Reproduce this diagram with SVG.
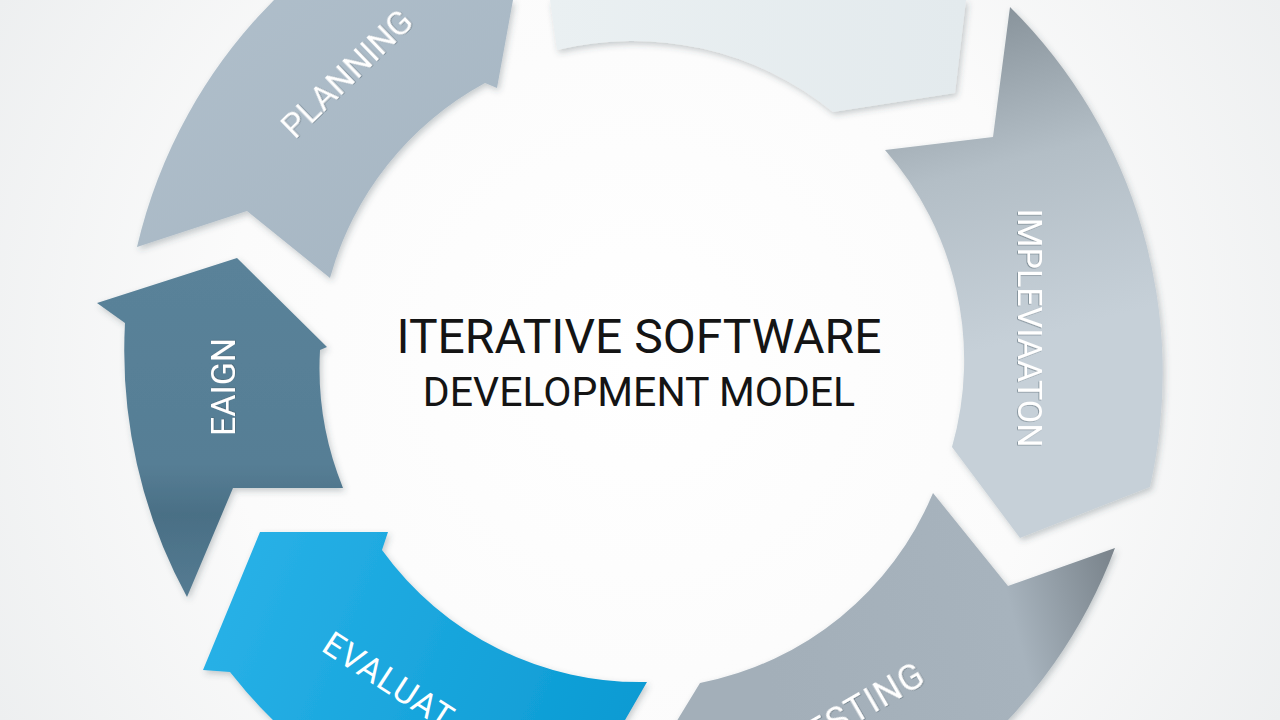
<svg xmlns="http://www.w3.org/2000/svg" width="1280" height="720" viewBox="0 0 1280 720">
  <defs>
    <radialGradient id="bg" cx="640" cy="360" r="760" gradientUnits="userSpaceOnUse">
      <stop offset="0" stop-color="#ffffff"/>
      <stop offset="0.55" stop-color="#fbfbfb"/>
      <stop offset="1" stop-color="#eceeef"/>
    </radialGradient>
    <linearGradient id="gPlan" x1="0" y1="0" x2="1" y2="1">
      <stop offset="0" stop-color="#b0bfcb"/>
      <stop offset="1" stop-color="#a5b5c2"/>
    </linearGradient>
    <linearGradient id="gTop" x1="0" y1="0" x2="1" y2="0">
      <stop offset="0" stop-color="#eaf0f2"/>
      <stop offset="1" stop-color="#e3eaed"/>
    </linearGradient>
    <linearGradient id="gImpl" x1="980" y1="20" x2="1060" y2="330" gradientUnits="userSpaceOnUse">
      <stop offset="0" stop-color="#8a959d"/>
      <stop offset="0.45" stop-color="#b3bec6"/>
      <stop offset="1" stop-color="#c6d0d8"/>
    </linearGradient>
    <linearGradient id="gTest" x1="760" y1="650" x2="1110" y2="560" gradientUnits="userSpaceOnUse">
      <stop offset="0" stop-color="#a3afb9"/>
      <stop offset="0.7" stop-color="#a7b3bd"/>
      <stop offset="1" stop-color="#7b858d"/>
    </linearGradient>
    <linearGradient id="gDes" x1="0" y1="260" x2="0" y2="600" gradientUnits="userSpaceOnUse">
      <stop offset="0" stop-color="#5a8299"/>
      <stop offset="0.6" stop-color="#567e95"/>
      <stop offset="0.75" stop-color="#4a6f85"/>
      <stop offset="1" stop-color="#557c93"/>
    </linearGradient>
    <linearGradient id="gEval" x1="260" y1="540" x2="640" y2="700" gradientUnits="userSpaceOnUse">
      <stop offset="0" stop-color="#27b0e6"/>
      <stop offset="1" stop-color="#0b9bd3"/>
    </linearGradient>
    <filter id="sh" x="-10%" y="-10%" width="120%" height="120%">
      <feDropShadow dx="2" dy="3" stdDeviation="3" flood-color="#3a4a55" flood-opacity="0.28"/>
    </filter>
    <filter id="tsh" x="-10%" y="-10%" width="120%" height="120%">
      <feDropShadow dx="0.6" dy="0.8" stdDeviation="0.6" flood-color="#4a5a66" flood-opacity="0.6"/>
    </filter>
  </defs>
  <style>
    .lbl { font-family: Roboto, "Liberation Sans", Arial, sans-serif; fill: #ffffff; font-weight: 400; }
    .title { font-family: Roboto, "Liberation Sans", Arial, sans-serif; fill: #141414; text-anchor: middle; }
  </style>

  <rect x="0" y="0" width="1280" height="720" fill="url(#bg)"/>

  <g id="connectors"></g>

  <g id="node-planning">
    <path filter="url(#sh)" fill="url(#gPlan)" d="M 137,247 A 515 515 0 0 1 274,0 L 513,0 L 497,88 L 485,83 A 318 318 0 0 0 330,278 L 247,211 Z"/>
    <text class="lbl" filter="url(#tsh)" font-size="34" text-anchor="middle" x="355" y="82" transform="rotate(-44 355 82)">PLANNING</text>
  </g>

  <g id="node-top">
    <path filter="url(#sh)" fill="url(#gTop)" d="M 550,0 L 557,50 A 318 318 0 0 1 833,112 L 955,93 L 966,0 Z"/>
  </g>

  <g id="node-implementation">
    <path filter="url(#sh)" fill="url(#gImpl)" d="M 1010,7 A 515 515 0 0 1 1150,487 L 1020,538 L 952,447 A 318 318 0 0 0 885,150 L 993,137 Z"/>
    <text class="lbl" filter="url(#tsh)" font-size="34" text-anchor="middle" x="1018" y="328" transform="rotate(90 1018 328)">IMPLEVIAATON</text>
  </g>

  <g id="node-testing">
    <path filter="url(#sh)" fill="url(#gTest)" d="M 933,493 L 1008,586 L 1115,548 A 515 515 0 0 1 966,760 L 653,760 L 700,683 A 318 318 0 0 0 933,493 Z"/>
    <text class="lbl" filter="url(#tsh)" font-size="36" letter-spacing="1" text-anchor="end" x="928" y="682" transform="rotate(-30 928 682)">TESTING</text>
  </g>

  <g id="node-evaluation">
    <path filter="url(#sh)" fill="url(#gEval)" d="M 260,532 L 388,532 L 382,550 A 318 318 0 0 0 647,682 L 602,760 L 318,760 A 515 515 0 0 1 230,672 L 203,670 Z"/>
    <text class="lbl" font-size="34" letter-spacing="1" x="320" y="650" transform="rotate(33 320 650)">EVALUAT</text>
  </g>

  <g id="node-design">
    <path filter="url(#sh)" fill="url(#gDes)" d="M 237,258 L 327,347 L 320,350 A 318 318 0 0 0 343,488 L 233,488 L 187,597 A 515 515 0 0 1 125,323 L 97,303 Z"/>
    <text class="lbl" filter="url(#tsh)" font-size="34" text-anchor="middle" x="235" y="387" transform="rotate(-90 235 387)">EAIGN</text>
  </g>

  <g id="title">
    <text class="title" x="639" y="353" font-size="48">ITERATIVE SOFTWARE</text>
    <text class="title" x="639" y="406" font-size="41">DEVELOPMENT MODEL</text>
  </g>
</svg>
